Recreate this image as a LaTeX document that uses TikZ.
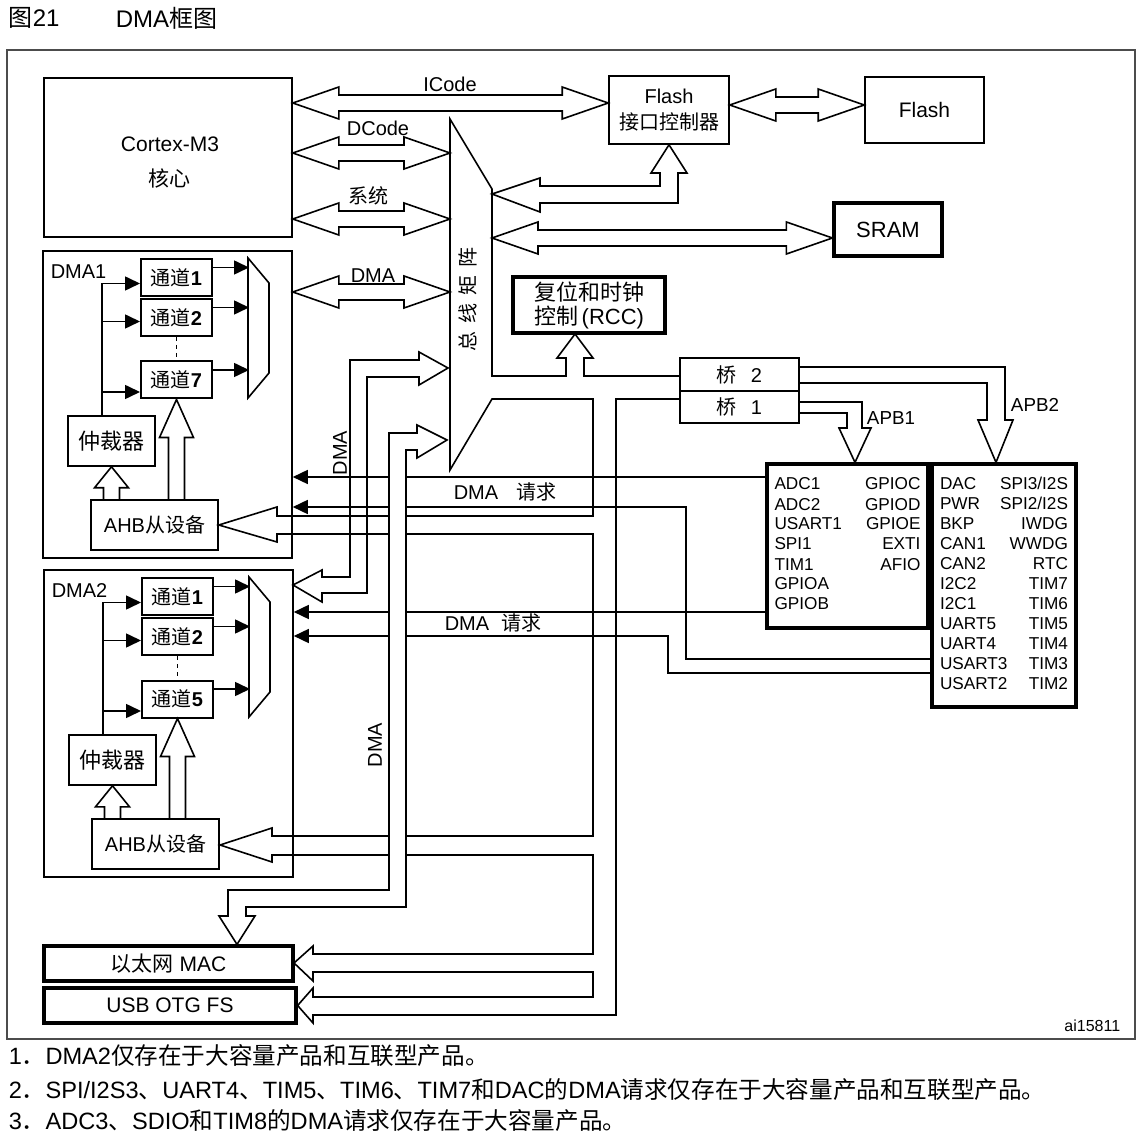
\documentclass[tikz,border=0pt]{standalone}
\usepackage{fontspec}
\setmainfont{Liberation Sans}
\newfontfamily\cjk{Noto Sans CJK SC}
\usetikzlibrary{arrows.meta,calc}
\tikzset{
    %Define standard arrow tip
    >={Triangle[length=7.5pt,width=7pt]},
    %Define style for boxes
    blk/.style 2 args={
           rectangle,
           draw=black,
           line width=0.8pt,
           minimum width=#1*0.5pt,
           minimum height=#2*0.5pt,
           inner sep=0pt},
    %Define style for heavy boxes
    hblk/.style 2 args={
           blk={#1}{#2},
           line width=1.6pt},
    % Define bus outline style
    bus/.style={
           line width=0.8pt,
           line join=miter},
    % Define request line style
    req/.style={
           ->,
           line width=0.8pt},
    % Define text styles
    note/.style={
           anchor=west,
           inner sep=0pt,
           font=\fontsize{11.8}{13}\selectfont},
    apbtxt/.style={
           font=\fontsize{8.6}{10}\selectfont},
}
% Define double headed bus between two tips
\newcommand{\dblbus}[2]{%
  \draw[bus] (#1) -- +(46,-16) -- +(46,-8) -- ($(#2)+(-46,-8)$) -- +(0,-8) -- (#2)
    -- ($(#2)+(-46,16)$) -- +(0,-8) -- ($(#1)+(46,8)$) -- +(0,8) -- cycle;}
% Define upward bus from a foot to a tip
\newcommand{\upbus}[3]{%
  \draw[bus] ($(#1)+(-8,0)$) -- ($(#2)+(-8,#3)$) -- +(-9,0) -- (#2)
    -- ($(#2)+(17,#3)$) -- +(-9,0) -- ($(#1)+(8,0)$);}

\begin{document}
\begin{tikzpicture}[x=0.5pt,y=-0.5pt,line width=0.8pt,font=\fontsize{10}{12}\selectfont]
  \useasboundingbox (0,0) rectangle (1142,1134);
  % title and frame
  \node[note,font=\fontsize{12}{14}\selectfont] (fignum) at (8,18) {{\cjk 图}21};
  \node[note,font=\fontsize{12}{14}\selectfont] (figname) at (115,18) {DMA{\cjk 框图}};
  \draw[black!70,line width=1pt] (7,50) rectangle (1135,1039);

  % core and memories
  \node[blk={248}{159}] (cortex) at (168,157.5) {};
  \node[align=center,font=\fontsize{10.5}{12}\selectfont] (cortexname) at (170,163) {Cortex-M3\\[5.5pt]{\cjk 核心}};
  \node[blk={120}{68},align=center] (flashif) at (669,110) {Flash\\[1pt]{\cjk 接口控制器}};
  \node[blk={119}{66},font=\fontsize{10.5}{12}\selectfont] (flash) at (924.5,110) {Flash};
  \node[hblk={108}{53},font=\fontsize{11}{13}\selectfont] (sram) at (888,229.5) {SRAM};
  \node[hblk={152}{56},align=center,font=\fontsize{11}{12}\selectfont] (rcc) at (589,305) {{\cjk 复位和时钟}\\{\cjk 控制}\,(RCC)};
  \node[blk={119}{33}] (brtwo) at (739.5,374.5) {{\cjk 桥}\hspace{7pt}2};
  \node[blk={119}{32}] (brone) at (739.5,407) {{\cjk 桥}\hspace{7pt}1};
  \node[hblk={161}{164},apbtxt] (apbone) at (847.5,546) {\begin{tabular}{@{}p{73pt}@{}}ADC1\hfill GPIOC\\ADC2\hfill GPIOD\\USART1\hfill GPIOE\\SPI1\hfill EXTI\\TIM1\hfill AFIO\\GPIOA\\GPIOB\end{tabular}};
  \node[hblk={144}{243},apbtxt] (apbtwo) at (1004,585.5) {\begin{tabular}{@{}p{64pt}@{}}DAC\hfill SPI3/I2S\\PWR\hfill SPI2/I2S\\BKP\hfill IWDG\\CAN1\hfill WWDG\\CAN2\hfill RTC\\I2C2\hfill TIM7\\I2C1\hfill TIM6\\UART5\hfill TIM5\\UART4\hfill TIM4\\USART3\hfill TIM3\\USART2\hfill TIM2\end{tabular}};
  \node[hblk={249}{35},font=\fontsize{10.5}{12}\selectfont] (mac) at (168.5,963.5) {{\cjk 以太网}\ MAC};
  \node[hblk={252}{35},font=\fontsize{10.5}{12}\selectfont] (usb) at (170,1005.5) {USB OTG FS};

  % the two DMA controllers
  \foreach \i/\sx/\sy/\last in {1/0/0/7,2/1/319/5}{
    \node[blk={249}{307}] (dma\i) at ({167.5+\sx},{404.5+\sy}) {};
    \node[anchor=west,inner sep=0pt] (dmaname\i) at ({50+\sx},{272+\sy}) {DMA\i};
    \node[blk={71}{37},line width=1pt] (cha\i) at ({176.5+\sx},{277.5+\sy}) {{\cjk 通道}\textbf{1}};
    \node[blk={71}{37},line width=1pt] (chb\i) at ({176.5+\sx},{317.5+\sy}) {{\cjk 通道}\textbf{2}};
    \node[blk={71}{37},line width=1pt] (chc\i) at ({176.5+\sx},{380+\sy}) {{\cjk 通道}\textbf{\last}};
    \draw[dash pattern=on 2pt off 2pt] (chb\i.south) -- (chc\i.north);
    \draw[bus] ({248+\sx},{258+\sy}) -- ({269+\sx},{283+\sy}) -- ({269+\sx},{373+\sy}) -- ({248+\sx},{398+\sy}) -- cycle;
    \foreach \k in {a,b,c}
      \draw[->] ([yshift=5pt]ch\k\i.east) -- ++(36,0);
    \node[blk={87}{50},font=\fontsize{11}{13}\selectfont] (arb\i) at ({111.5+\sx},{441+\sy}) {{\cjk 仲裁器}};
    \draw[->] ([xshift=-4.75pt]arb\i.north) |- ([yshift=-3pt]cha\i.west);
    \draw[->] ([xshift=-4.75pt]arb\i.north) |- ([yshift=-2pt]chb\i.west);
    \draw[->] ([xshift=-4.75pt]arb\i.north) |- ([yshift=-6pt]chc\i.west);
    \node[blk={127}{50}] (ahb\i) at ({154.5+\sx},{525+\sy}) {AHB{\cjk 从设备}};
    \coordinate (ua\i) at (ahb\i.north -| arb\i.south);
    \coordinate (ub\i) at (ahb\i.north -| chc\i.south);
    \upbus{ua\i}{arb\i.south}{21}
    \upbus{ub\i}{chc\i.south}{38}
  }

  % buses into the matrix
  \coordinate (icA) at (cortex.east |- 0,103);
  \coordinate (icB) at (flashif.west |- 0,103);
  \coordinate (dcA) at (cortex.east |- 0,153);
  \coordinate (dcB) at (450,153);
  \coordinate (syA) at (cortex.east |- 0,219);
  \coordinate (syB) at (450,219);
  \coordinate (dmA) at (dma1.east |- 0,292);
  \coordinate (dmB) at (450,292);
  \coordinate (flA) at (flashif.east |- 0,105);
  \coordinate (flB) at (flash.west |- 0,105);
  \coordinate (srA) at (492,238);
  \coordinate (srB) at (sram.west |- 0,238);
  \dblbus{icA}{icB}
  \dblbus{dcA}{dcB}
  \dblbus{syA}{syB}
  \dblbus{dmA}{dmB}
  \dblbus{flA}{flB}
  \dblbus{srA}{srB}
  \draw[bus] (492,194) -- (540,178) -- (540,186) -- (660,186) -- (660,173) -- (651,173) -- (flashif.south)
    -- (687,173) -- (678,173) -- (678,203) -- (540,203) -- (540,212) -- cycle;

  % bus matrix with AHB system bus
  \draw[bus] (brone.west |- 0,399) -- (616,399) -- (616,1015) -- (313,1015) -- (313,1023) -- (usb.east)
    -- (313,988) -- (313,997) -- (593,997) -- (593,972) -- (313,972) -- (313,981) -- (294,963)
    -- (313,946) -- (313,954) -- (593,954) -- (593,855) -- (272,855) -- (272,862) -- (220,845)
    -- (272,828) -- (272,836) -- (593,836) -- (593,534) -- (277,534) -- (277,542) -- (ahb1.east)
    -- (277,507) -- (277,516) -- (593,516) -- (593,399) -- (492,399) -- (450,470) -- (450,119)
    -- (492,189) -- (492,376) -- (566,376) -- (566,358) -- (557,358) -- (575,334) -- (593,358)
    -- (584,358) -- (584,376) -- (brtwo.west |- 0,376);
  \node[rotate=90] (mxname) at (468,300) {{\cjk 总\hspace{4pt}线\hspace{4pt}矩\hspace{4pt}阵}};

  % DMA2 <-> matrix
  \draw[bus] (448,368) -- (419,352) -- (419,360) -- (350,360) -- (350,577) -- (322,577) -- (322,570)
    -- (293,585) -- (322,602) -- (322,593) -- (367,593) -- (367,377) -- (419,377) -- (419,385) -- cycle;

  % APB buses
  \draw[bus] (brone.east |- 0,402) -- (862,402) -- (862,428) -- (871,428) -- (apbone.north -| 855,0)
    -- (839,428) -- (847,428) -- (847,413) -- (brone.east |- 0,413);
  \draw[bus] (brtwo.east |- 0,367) -- (1005,367) -- (1005,420) -- (1013,420) -- (apbtwo.north -| 996,0)
    -- (978,420) -- (987,420) -- (987,383) -- (brtwo.east |- 0,383);

  % DMA requests
  \draw[req] (apbone.west |- 0,477) -- (dma1.east |- 0,477);
  \draw[req] (apbtwo.west |- 0,659) -| (686,507) -- (dma1.east |- 0,507);
  \draw[req] (apbone.west |- 0,612) -- (dma2.east |- 0,612);
  \draw[req] (apbtwo.west |- 0,673) -| (668,636) -- (dma2.east |- 0,636);

  % matrix <-> ethernet MAC
  \filldraw[bus,fill=white] (447,440) -- (417,425) -- (417,433) -- (389,433) -- (389,890) -- (228,890)
    -- (228,916) -- (219,916) -- (mac.north -| 237,0) -- (255,916) -- (246,916) -- (246,907) -- (406,907)
    -- (406,450) -- (417,450) -- (417,458) -- cycle;

  % labels
  \node (iclbl) at (450,84) {ICode};
  \node (dclbl) at (378,128) {DCode};
  \node (syslbl) at (368,196) {{\cjk 系统}};
  \node (buslbl) at (373,276) {DMA};
  \node[rotate=90] (buslblA) at (340,453) {DMA};
  \node[rotate=90] (buslblB) at (375,745) {DMA};
  \node (reqlblA) at (505,492) {DMA\hspace{9pt}{\cjk 请求}};
  \node (reqlblB) at (493,623) {DMA\hspace{6pt}{\cjk 请求}};
  \node[font=\fontsize{9.4}{11}\selectfont] (apbonelbl) at (891,418) {APB1};
  \node[font=\fontsize{9.4}{11}\selectfont] (apbtwolbl) at (1035,405) {APB2};
  \node[anchor=east,inner sep=0pt,font=\fontsize{8}{10}\selectfont] (figcode) at (1121,1026) {ai15811};

  % footnotes
  \node[note] (noteone) at (8,1056) {1{\cjk ．}DMA2{\cjk 仅存在于大容量产品和互联型产品。}};
  \node[note] (notetwo) at (8,1090) {2{\cjk ．}SPI/I2S3{\cjk 、}UART4{\cjk 、}TIM5{\cjk 、}TIM6{\cjk 、}TIM7{\cjk 和}DAC{\cjk 的}DMA{\cjk 请求仅存在于大容量产品和互联型产品。}};
  \node[note] (notethree) at (8,1121) {3{\cjk ．}ADC3{\cjk 、}SDIO{\cjk 和}TIM8{\cjk 的}DMA{\cjk 请求仅存在于大容量产品。}};
\end{tikzpicture}
\end{document}
